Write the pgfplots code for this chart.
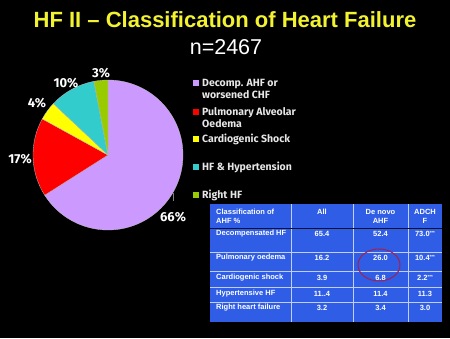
\documentclass[border=0pt]{standalone}
\usepackage{fontspec}
\setmainfont{Liberation Sans}
\newfontfamily\comic{Fira Sans}
\usepackage{pgfplots}
\pgfplotsset{compat=1.18}
\definecolor{piePurple}{HTML}{CC99FF}
\definecolor{pieRed}{HTML}{FF0000}
\definecolor{pieYellow}{HTML}{FFFF00}
\definecolor{pieCyan}{HTML}{33CCCC}
\definecolor{pieGreen}{HTML}{99CC00}
\definecolor{titleYellow}{HTML}{F2F230}
\definecolor{tabBlue}{HTML}{2F5DE6}
\definecolor{circleRed}{HTML}{A3204E}
\definecolor{legText}{HTML}{E6E6E6}
\begin{document}
\begin{tikzpicture}[x=1pt,y=1pt]
\fill[black] (0,0) rectangle (450,338);
\path[use as bounding box] (0,0) rectangle (450,338);
% titles
\node[text=titleYellow, font=\bfseries\fontsize{22}{24}\selectfont] at (225,318) {HF II – Classification of Heart Failure};
\node[text=white, font=\fontsize{21.5}{24}\selectfont] at (226,291) {n=2467};
% pie: shares 66, 17, 4, 10, 3 (%), clockwise from the top
\begin{axis}[at={(108pt,183pt)}, anchor=origin, hide axis, x=75pt, y=75pt,
  xmin=-1, xmax=1, ymin=-1, ymax=1, clip=false]
\fill[piePurple, draw=white!75!black, line width=0.3pt] (axis cs:0,0) -- (axis cs:{cos(90)},{sin(90)}) arc[start angle=90, end angle={90-66*3.6}, radius=75pt] -- cycle;
\fill[pieRed, draw=white!75!black, line width=0.3pt] (axis cs:0,0) -- (axis cs:{cos(90-66*3.6)},{sin(90-66*3.6)}) arc[start angle={90-66*3.6}, end angle={90-83*3.6}, radius=75pt] -- cycle;
\fill[pieYellow, draw=white!75!black, line width=0.3pt] (axis cs:0,0) -- (axis cs:{cos(90-83*3.6)},{sin(90-83*3.6)}) arc[start angle={90-83*3.6}, end angle={90-87*3.6}, radius=75pt] -- cycle;
\fill[pieCyan, draw=white!75!black, line width=0.3pt] (axis cs:0,0) -- (axis cs:{cos(90-87*3.6)},{sin(90-87*3.6)}) arc[start angle={90-87*3.6}, end angle={90-97*3.6}, radius=75pt] -- cycle;
\fill[pieGreen, draw=white!75!black, line width=0.3pt] (axis cs:0,0) -- (axis cs:{cos(90-97*3.6)},{sin(90-97*3.6)}) arc[start angle={90-97*3.6}, end angle={90-100*3.6}, radius=75pt] -- cycle;
\draw[gray, line width=0.5pt] (axis cs:0.867,-0.507) -- (axis cs:0.867,-0.613);
\begin{scope}[every node/.style={text=white, font=\comic\bfseries\fontsize{13}{13}\selectfont}]
\node at (axis cs:0.867,-0.827) {66\%};
\node at (axis cs:-1.173,-0.06) {17\%};
\node at (axis cs:-0.947,0.693) {4\%};
\node at (axis cs:-0.56,0.96) {10\%};
\node at (axis cs:-0.093,1.093) {3\%};
\end{scope}
\end{axis}
% legend
\begin{scope}[every node/.style={text=legText, anchor=west, inner sep=0pt, text height=7.5pt, text depth=0pt, font=\comic\bfseries\fontsize{10.5}{11}\selectfont}]
\fill[piePurple] (193,252) rectangle (199,258);
\fill[pieRed] (193,223) rectangle (199,229);
\fill[pieYellow] (193,196) rectangle (199,202);
\fill[pieCyan] (193,168) rectangle (199,174);
\fill[pieGreen] (193,140) rectangle (199,146);
\node at (202,255) {Decomp. AHF or};
\node at (202,243) {worsened CHF};
\node at (202,226) {Pulmonary Alveolar};
\node at (202,214) {Oedema};
\node at (202,199) {Cardiogenic Shock};
\node at (202,171) {HF \& Hypertension};
\node at (202,143) {Right HF};
\end{scope}
% table
\fill[tabBlue] (210,16) rectangle (442,134);
\draw[white!70!tabBlue, line width=0.6pt] (291,16) -- (291,134) (353,16) -- (353,134) (408,16) -- (408,134)
  (210,86) -- (442,86) (210,67) -- (442,67) (210,51) -- (442,51) (210,36) -- (442,36);
\draw[black!80!tabBlue, line width=0.8pt] (210,110) -- (442,110);
\begin{scope}[every node/.style={text=white, inner sep=0pt, align=center, font=\bfseries\fontsize{7.5}{9}\selectfont}]
\node[anchor=west, align=left] at (216,121.5) {Classification of\\AHF \%};
\node at (322,126) {All};
\node at (380.5,121.5) {De novo\\AHF};
\node at (425,121.5) {ADCH\\F};
\node[anchor=west] at (216,104) {Decompensated HF};
\node[anchor=west] at (216,80) {Pulmonary oedema};
\node[anchor=west] at (216,60) {Cardiogenic shock};
\node[anchor=west] at (216,44) {Hypertensive HF};
\node[anchor=west] at (216,30) {Right heart failure};
\node at (322,104) {65.4};
\node at (322,80) {16.2};
\node at (322,60) {3.9};
\node at (322,44) {11..4};
\node at (322,30) {3.2};
\node at (380.5,104) {52.4};
\node at (380.5,80) {26.0};
\node at (380.5,60) {6.8};
\node at (380.5,44) {11.4};
\node at (380.5,30) {3.4};
\node at (425,104) {73.0\raisebox{2pt}{\fontsize{4.5}{5}\selectfont ***}};
\node at (425,80) {10.4\raisebox{2pt}{\fontsize{4.5}{5}\selectfont ***}};
\node at (425,60) {2.2\raisebox{2pt}{\fontsize{4.5}{5}\selectfont ***}};
\node at (425,44) {11.3};
\node at (425,30) {3.0};
\end{scope}
\draw[circleRed, line width=1pt] (379,73) ellipse [x radius=21, y radius=16];
\end{tikzpicture}
\end{document}
